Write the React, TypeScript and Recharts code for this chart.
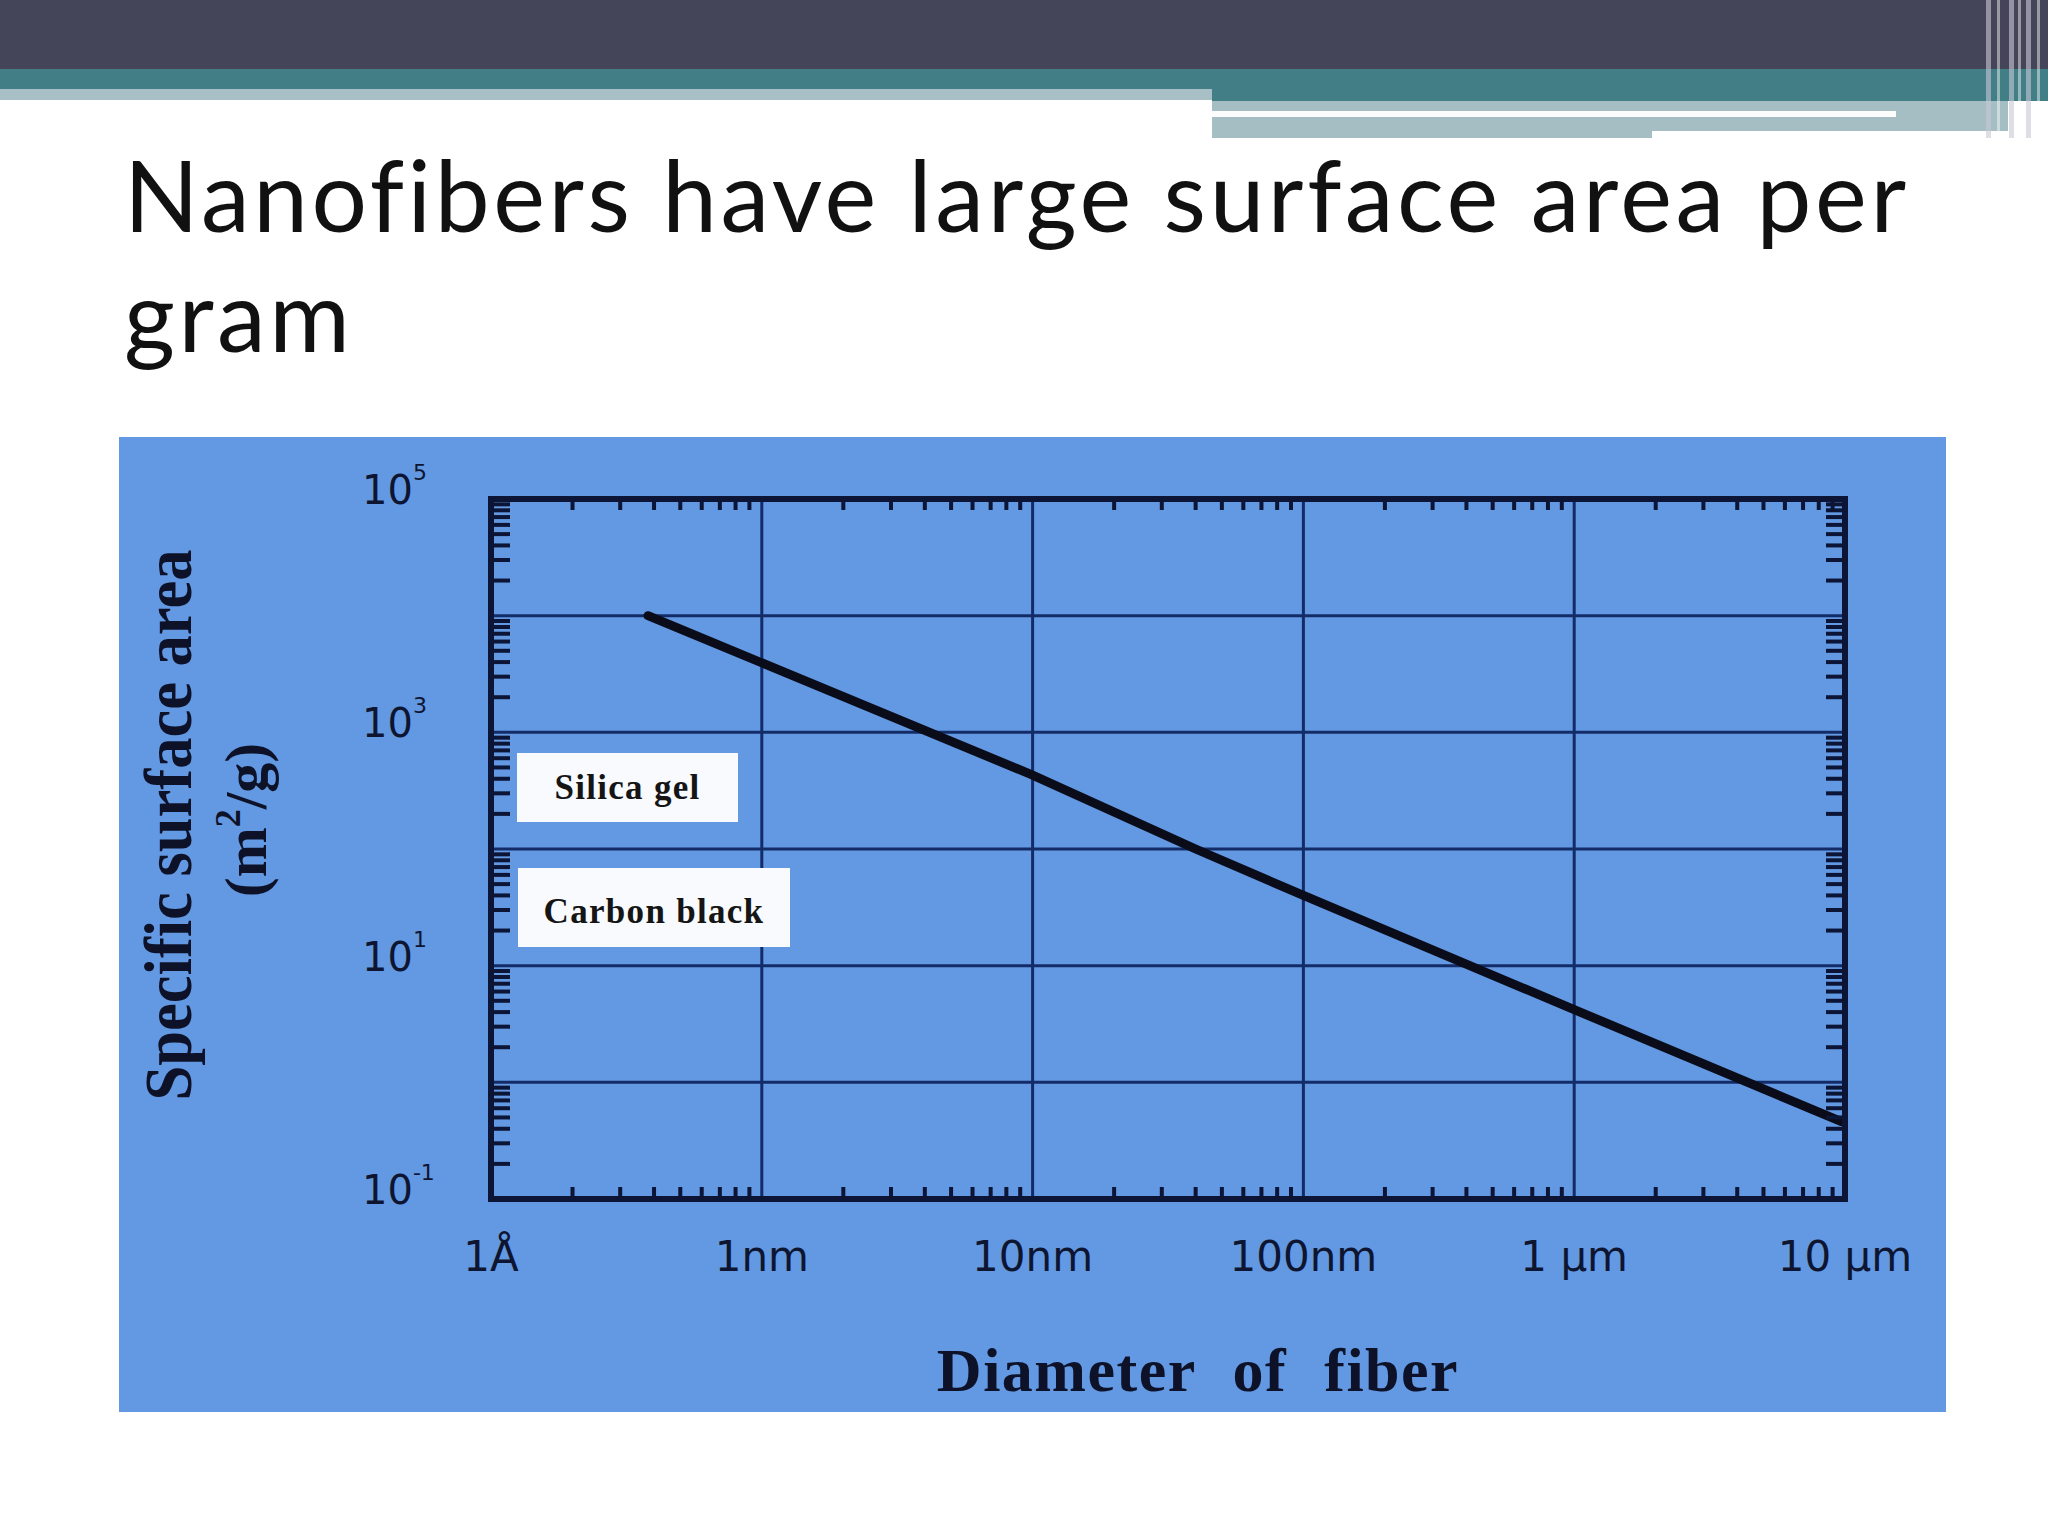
import React from "react";
import { LineChart, Line, XAxis, YAxis, ReferenceLine, Label } from "recharts";

// fiber diameter (nm) vs specific surface area (m2/g)
const diameters = [0.38, 10, 40, 100, 1000, 9700];
const surfaceAreas = [10000, 430, 100, 40, 4.2, 0.46];

const xMajorTicks = [0.1, 1, 10, 100, 1000, 10000];
const xTickLabels = ["1Å", "1nm", "10nm", "100nm", "1 µm", "10 µm"];
const yMajorTicks = [0.1, 1, 10, 100, 1000, 10000, 100000];
const yLabelValues = [0.1, 10, 1000, 100000];
const yLabelExponents = ["-1", "1", "3", "5"];
const minorSteps = [2, 3, 4, 5, 6, 7, 8, 9];

const data = diameters.map((d, i) => ({ d, s: surfaceAreas[i] }));

const withMinors = (majors: number[]) => {
  const out: number[] = [];
  majors.forEach((m, i) => {
    out.push(m);
    if (i < majors.length - 1) minorSteps.forEach((s) => out.push(+(m * s).toPrecision(6)));
  });
  return out;
};
const xTicks = withMinors(xMajorTicks);
const yTicks = withMinors(yMajorTicks);
const matches = (list: number[], v: number) => list.findIndex((m) => Math.abs(m - v) / m < 1e-6);

const BLUE = "#6398e2";
const INK = "#0c1535";
const GRID = "#132c68";
const frame = { stroke: INK, strokeWidth: 6, strokeLinecap: "square" as const };
const tickFont = "'DejaVu Sans', sans-serif";
const serif = "'Liberation Serif', 'Times New Roman', serif";

const BottomTick = (p: any) => {
  const v = p.payload.value;
  const i = matches(xMajorTicks, v);
  return (
    <g>
      {i < 0 && <line x1={p.x} x2={p.x} y1={p.y} y2={p.y - 12} stroke={INK} strokeWidth={4} />}
      {i >= 0 && (
        <text x={p.x} y={p.y + 72} textAnchor="middle" fontFamily={tickFont} fontSize={42} fill="#0d1530">
          {xTickLabels[i]}
        </text>
      )}
    </g>
  );
};

const TopTick = (p: any) => {
  if (matches(xMajorTicks, p.payload.value) >= 0) return <g />;
  return <line x1={p.x} x2={p.x} y1={p.y} y2={p.y + 11} stroke={INK} strokeWidth={4} />;
};

const LeftTick = (p: any) => {
  const v = p.payload.value;
  const li = matches(yLabelValues, v);
  const isMajor = matches(yMajorTicks, v) >= 0;
  return (
    <g>
      {!isMajor && <line x1={p.x} x2={p.x + 19} y1={p.y} y2={p.y} stroke={INK} strokeWidth={4} />}
      {li >= 0 && (
        <text x={p.x - 129} y={p.y + 5} fontFamily={tickFont} fontSize={40} fill="#0d1530">
          10
          <tspan dy={-24} fontSize={22}>
            {yLabelExponents[li]}
          </tspan>
        </text>
      )}
    </g>
  );
};

const RightTick = (p: any) => {
  if (matches(yMajorTicks, p.payload.value) >= 0) return <g />;
  return <line x1={p.x} x2={p.x - 19} y1={p.y} y2={p.y} stroke={INK} strokeWidth={4} />;
};

const YTitle = (p: any) => {
  const vb = p.viewBox;
  const right = vb.x + vb.width;
  const cy = vb.y + vb.height / 2;
  const x1 = right - 300;
  const x2 = right - 225;
  return (
    <g fontFamily={serif} fontWeight="bold" fill="#0d1228">
      <text
        x={x1}
        y={cy - 24}
        textAnchor="middle"
        fontSize={68}
        textLength={551}
        lengthAdjust="spacingAndGlyphs"
        transform={`rotate(-90, ${x1}, ${cy - 24})`}
      >
        Specific surface area
      </text>
      <text x={x2} y={cy - 29} textAnchor="middle" fontSize={60} transform={`rotate(-90, ${x2}, ${cy - 29})`}>
        (m<tspan dy={-26} fontSize={36}>2</tspan>
        <tspan dy={26}>/g)</tspan>
      </text>
    </g>
  );
};

const XTitle = (p: any) => {
  const vb = p.viewBox;
  return (
    <text
      x={vb.x + vb.width / 2 + 30}
      y={vb.y + 192}
      textAnchor="middle"
      fontFamily={serif}
      fontWeight="bold"
      fontSize={62}
      letterSpacing={1.5}
      wordSpacing={20}
      fill="#0d1228"
    >
      Diameter of fiber
    </text>
  );
};

const box = (left: number, top: number, w: number, h: number, text: string, shift: number) => (
  <div
    style={{
      position: "absolute",
      left,
      top,
      width: w,
      height: h,
      boxSizing: "border-box",
      paddingTop: shift,
      background: "#f8fafd",
      display: "flex",
      alignItems: "center",
      justifyContent: "center",
      fontFamily: serif,
      fontWeight: "bold",
      fontSize: 35,
      color: "#151515",
      letterSpacing: 1.3,
    }}
  >
    {text}
  </div>
);

const logAxis = {
  type: "number" as const,
  scale: "log" as const,
  allowDataOverflow: true,
  interval: 0,
  tickSize: 0,
  tickMargin: 0,
  tickLine: false,
  axisLine: frame,
};

export default function App() {
  return (
    <div style={{ position: "absolute", left: 0, top: 0, width: 2048, height: 1536, background: "#fff", overflow: "hidden" }}>
      {/* slide header bands */}
      <div style={{ position: "absolute", left: 0, top: 0, width: 2048, height: 69, background: "#454559" }} />
      <div style={{ position: "absolute", left: 0, top: 69, width: 1212, height: 20, background: "#417e86" }} />
      <div style={{ position: "absolute", left: 1212, top: 69, width: 836, height: 32, background: "#417e86" }} />
      <div style={{ position: "absolute", left: 0, top: 89, width: 1212, height: 11, background: "#a7bfc5" }} />
      <div style={{ position: "absolute", left: 1212, top: 101, width: 440, height: 37, background: "#a5bec4" }} />
      <div style={{ position: "absolute", left: 1652, top: 101, width: 356, height: 30, background: "#a5bec4" }} />
      <div style={{ position: "absolute", left: 1212, top: 111, width: 684, height: 6, background: "#fbfdfd" }} />
      {[1986, 1997, 2009, 2018, 2026, 2037].map((x, i) => (
        <div
          key={x}
          style={{
            position: "absolute",
            left: x,
            top: 0,
            width: i % 2 ? 3 : 5,
            height: 138,
            background: i % 2 ? "rgba(255,255,255,0.45)" : "rgba(200,200,215,0.6)",
          }}
        />
      ))}

      <div
        style={{
          position: "absolute",
          left: 124,
          top: 134,
          fontFamily: "Lato, sans-serif",
          fontSize: 98,
          letterSpacing: 3.6,
          lineHeight: "120px",
          color: "#111",
          whiteSpace: "nowrap",
        }}
      >
        Nanofibers have large surface area per
        <br />
        gram
      </div>

      <div style={{ position: "absolute", left: 119, top: 437, width: 1827, height: 975, background: BLUE }}>
        <LineChart width={1827} height={975} data={data} margin={{ top: 61, right: 100, bottom: 212, left: 371 }}>
          <XAxis {...logAxis} xAxisId="b" dataKey="d" domain={[0.1, 10000]} ticks={xTicks} height={1} tick={BottomTick}>
            <Label content={XTitle} />
          </XAxis>
          <XAxis {...logAxis} xAxisId="t" orientation="top" dataKey="d" domain={[0.1, 10000]} ticks={xTicks} height={1} tick={TopTick} />
          <YAxis {...logAxis} yAxisId="l" domain={[0.1, 100000]} ticks={yTicks} width={1} tick={LeftTick}>
            <Label content={YTitle} />
          </YAxis>
          <YAxis {...logAxis} yAxisId="r" orientation="right" domain={[0.1, 100000]} ticks={yTicks} width={1} tick={RightTick} />
          {xMajorTicks.slice(1, -1).map((v) => (
            <ReferenceLine key={`x${v}`} xAxisId="b" yAxisId="l" x={v} stroke={GRID} strokeWidth={3} />
          ))}
          {yMajorTicks.slice(1, -1).map((v) => (
            <ReferenceLine key={`y${v}`} xAxisId="b" yAxisId="l" y={v} stroke={GRID} strokeWidth={3} />
          ))}
          <Line
            xAxisId="b"
            yAxisId="l"
            dataKey="s"
            type="linear"
            stroke="#0a0c1a"
            strokeWidth={9}
            strokeLinecap="round"
            dot={false}
            isAnimationActive={false}
          />
        </LineChart>
      </div>

      {box(517, 753, 221, 69, "Silica gel", 0)}
      {box(518, 868, 272, 79, "Carbon black", 8)}
    </div>
  );
}
